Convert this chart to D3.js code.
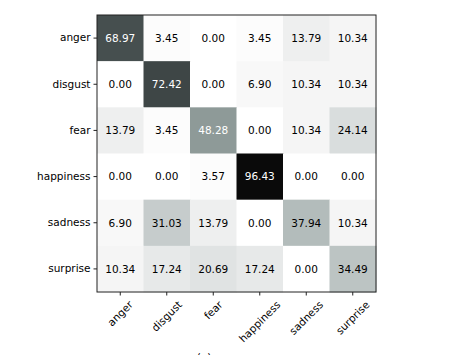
<!DOCTYPE html>
<html>
<head>
<meta charset="utf-8">
<script src="https://cdn.jsdelivr.net/npm/d3@7"></script>
<style>
  html, body { margin: 0; padding: 0; background: #fff; }
  svg { display: block; }
  text { font-family: "DejaVu Sans", sans-serif; }
</style>
</head>
<body>
<svg id="chart" width="474" height="355"></svg>
<script>
const rowLabels = ["anger", "disgust", "fear", "happiness", "sadness", "surprise"];
const colLabels = ["anger", "disgust", "fear", "happiness", "sadness", "surprise"];
const rowAnger     = [68.97, 3.45, 0.00, 3.45, 13.79, 10.34];
const rowDisgust   = [0.00, 72.42, 0.00, 6.90, 10.34, 10.34];
const rowFear      = [13.79, 3.45, 48.28, 0.00, 10.34, 24.14];
const rowHappiness = [0.00, 0.00, 3.57, 96.43, 0.00, 0.00];
const rowSadness   = [6.90, 31.03, 13.79, 0.00, 37.94, 10.34];
const rowSurprise  = [10.34, 17.24, 20.69, 17.24, 0.00, 34.49];
const matrix = [rowAnger, rowDisgust, rowFear, rowHappiness, rowSadness, rowSurprise];
const caption = "(a)";

const svg = d3.select("#chart");
const mLeft = 97, mTop = 15, W = 279, H = 277;
const FS = 10.5;

const x = d3.scaleBand().domain(colLabels).range([mLeft, mLeft + W]);
const y = d3.scaleBand().domain(rowLabels).range([mTop, mTop + H]);

const vmax = d3.max(matrix.flat());
const color = d3.scaleLinear()
  .domain([0, 0.107, 0.25, 0.393, 0.5, 0.715, 1].map(f => f * vmax))
  .range(["#ffffff", "#f5f5f5", "#d9dddd", "#b3bcbb", "#8e9a98", "#464f4f", "#0a0a0a"])
  .clamp(true);

const cells = [];
matrix.forEach((row, i) => row.forEach((v, j) => cells.push({r: rowLabels[i], c: colLabels[j], v})));

svg.append("g").selectAll("rect").data(cells).join("rect")
  .attr("x", d => x(d.c)).attr("y", d => y(d.r))
  .attr("width", x.bandwidth() + 0.5).attr("height", y.bandwidth() + 0.5)
  .attr("fill", d => color(d.v));

svg.append("g").selectAll("text").data(cells).join("text")
  .attr("x", d => x(d.c) + x.bandwidth() / 2)
  .attr("y", d => y(d.r) + y.bandwidth() / 2)
  .attr("text-anchor", "middle").attr("dy", "0.36em")
  .attr("font-size", FS)
  .attr("fill", d => d.v > vmax / 2 ? "#ffffff" : "#000000")
  .text(d => d.v.toFixed(2));

// frame
svg.append("rect").attr("x", mLeft).attr("y", mTop).attr("width", W).attr("height", H)
  .attr("fill", "none").attr("stroke", "#222").attr("stroke-width", 1);

// y axis
const yAxis = svg.append("g").attr("transform", `translate(${mLeft},0)`)
  .call(d3.axisLeft(y).tickSize(3.5).tickPadding(3));
yAxis.select(".domain").remove();
yAxis.selectAll("text").attr("font-size", FS).attr("fill", "#000").style("font-family", "DejaVu Sans, sans-serif");
yAxis.selectAll("line").attr("stroke", "#222");

// x axis
const xAxis = svg.append("g").attr("transform", `translate(0,${mTop + H})`)
  .call(d3.axisBottom(x).tickSize(3.5).tickFormat(""));
xAxis.select(".domain").remove();
xAxis.selectAll("line").attr("stroke", "#222");

const labelTop = 299;
const xl = svg.append("g");
colLabels.forEach(c => {
  const t = xl.append("text").attr("font-size", FS).attr("fill", "#000")
    .attr("text-anchor", "middle").attr("dy", "0.35em").text(c);
  const w = t.node().getComputedTextLength();
  const h = FS;
  const bb = (w + h) / Math.SQRT2;
  const cx = x(c) + x.bandwidth() / 2;
  const cy = labelTop + bb / 2;
  t.attr("x", 0).attr("y", 0).attr("transform", `translate(${cx},${cy}) rotate(-45)`);
});

svg.append("text").attr("x", 204).attr("y", 361).attr("text-anchor", "middle")
  .attr("font-size", FS).attr("fill", "#000").text(caption);
</script>
</body>
</html>
